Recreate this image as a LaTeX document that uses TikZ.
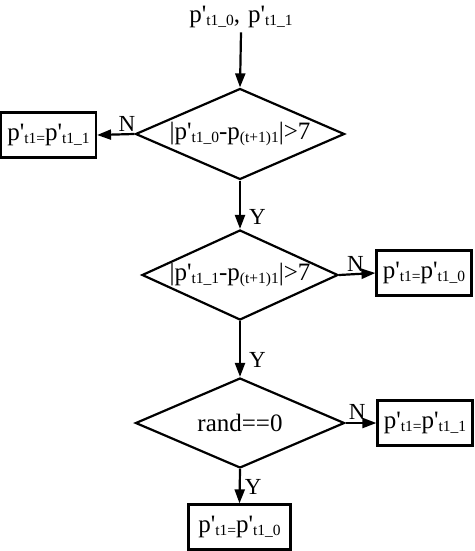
\documentclass[tikz,border=0pt]{standalone}
\usepackage{fontspec}
\setmainfont{Liberation Serif}
\usetikzlibrary{arrows.meta, positioning, shapes.geometric}

\newcommand{\pq}{p\textquotesingle}
\newcommand{\lowsub}[1]{\raisebox{-3pt}{\fontsize{15.5}{15.5}\selectfont #1}}

\begin{document}
\begin{tikzpicture}[x=1pt, y=-1pt, line width=2.2pt,
    every node/.style={font=\fontsize{25}{29}\selectfont},
    decision/.style={draw, diamond, inner ysep=0pt, inner xsep=-14pt, aspect=2.3},
    result/.style={draw, rectangle, inner sep=0pt, minimum width=95pt, minimum height=45pt},
    flow/.style={-{Triangle[length=14pt,width=10pt]}},
    answer/.style={inner sep=2pt, font=\fontsize{23}{26}\selectfont}]
    \useasboundingbox (0,0) rectangle (474,551);
    % entrada
    \node (start) at (241,17) {\pq\lowsub{t1\_0},\hspace{8pt}\pq\lowsub{t1\_1}};
    % decisiones
    \node[decision, minimum width=209pt, minimum height=91pt] (d1) at (240,134)
        {|\pq\lowsub{t1\_0}-p\lowsub{(t+1)1}|>7};
    \node[decision, minimum width=196pt, minimum height=90pt] (d2) at (240,275)
        {|\pq\lowsub{t1\_1}-p\lowsub{(t+1)1}|>7};
    \node[decision, minimum width=209pt, minimum height=90pt] (d3) at (240,423)
        {rand==0};
    % resultados
    \node[result] (b1) at (48.5,135) {\pq\lowsub{t1=}\pq\lowsub{t1\_1}};
    \node[result] (b2) at (424,273) {\pq\lowsub{t1=}\pq\lowsub{t1\_0}};
    \node[result] (b3) at (425,423) {\pq\lowsub{t1=}\pq\lowsub{t1\_1}};
    \node[result, minimum width=102pt] (b4) at (239.5,527) {\pq\lowsub{t1=}\pq\lowsub{t1\_0}};
    % flechas
    \draw[flow] (start.south) -- (d1.north);
    \draw[flow] (d1.west) -- node[answer, above, pos=0.2] (n1) {N} (b1.east);
    \draw[flow] (d1.south) -- node[answer, right, pos=0.76, xshift=6pt] (y1) {Y} (d2.north);
    \draw[flow] (d2.east) -- node[answer, above, pos=0.45] (n2) {N} (b2.west);
    \draw[flow] (d2.south) -- node[answer, right, pos=0.69, xshift=6pt] (y2) {Y} (d3.north);
    \draw[flow] (d3.east) -- node[answer, above, pos=0.375] (n3) {N} (b3.west);
    \draw[flow] (d3.south) -- node[answer, right, pos=0.53, xshift=2pt] (y3) {Y} (b4.north);
\end{tikzpicture}
\end{document}
